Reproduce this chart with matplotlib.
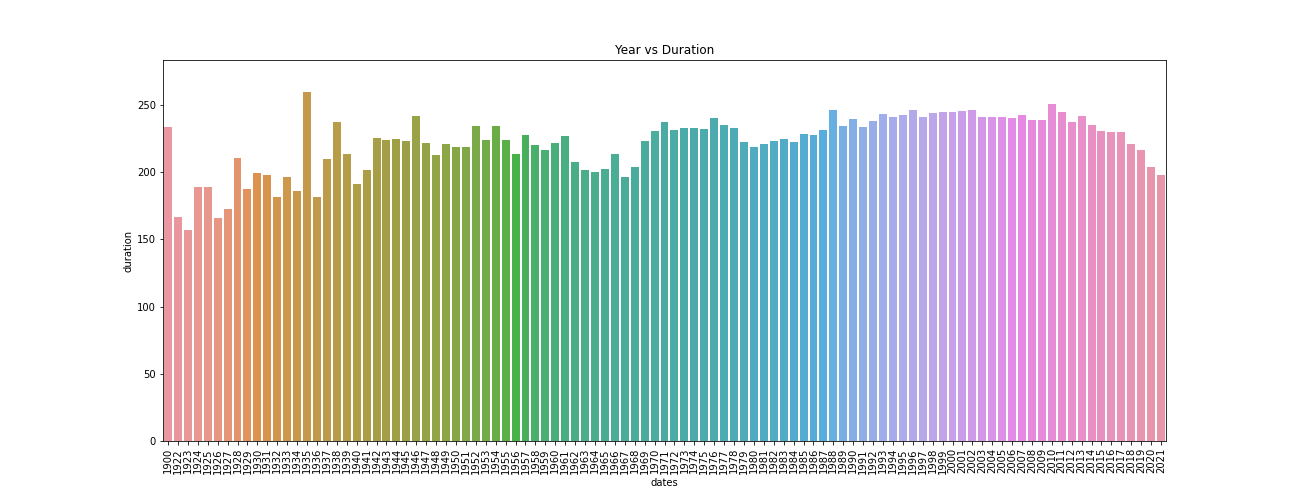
import matplotlib
matplotlib.use("Agg")
import matplotlib.pyplot as plt
import seaborn as sns

years = ["1900"] + [str(y) for y in range(1922, 2022)]

duration = [
    233.6,  # 1900
    166.7, 157.0, 189.0, 189.0, 165.9, 172.6, 210.6, 187.5,  # 1922-1929
    199.4, 197.9, 181.5, 196.4, 186.0, 259.7, 181.5, 209.8, 237.4, 213.5,  # 1930s
    191.2, 201.6, 225.4, 224.0, 224.7, 223.2, 241.8, 221.7, 212.8, 221.0,  # 1940s
    218.8, 218.8, 234.4, 224.0, 234.4, 224.0, 213.5, 227.7, 220.2, 216.5,  # 1950s
    221.7, 226.9, 207.6, 201.6, 200.1, 202.4, 213.5, 196.4, 203.9, 223.2,  # 1960s
    230.7, 237.4, 231.4, 232.9, 232.9, 232.1, 240.3, 235.1, 232.9, 222.5,  # 1970s
    218.8, 221.0, 223.2, 224.7, 222.5, 228.4, 227.7, 231.4, 246.3, 234.4,  # 1980s
    239.6, 233.6, 238.1, 243.3, 241.1, 242.6, 246.3, 241.1, 244.0, 244.8,  # 1990s
    244.8, 245.5, 246.3, 241.1, 241.1, 241.1, 240.3, 242.6, 238.8, 238.8,  # 2000s
    250.7, 244.8, 237.4, 241.8, 235.1, 230.7, 229.9, 229.9, 221.0, 216.5,  # 2010s
    203.9, 197.9,  # 2020-2021
]

# old seaborn barplot default for many categories: husl (l=.7), desaturated to .75
colors = [sns.desaturate(c, 0.75) for c in sns.husl_palette(len(years), l=0.7)]

fig = plt.figure(figsize=(18, 7), dpi=72)
ax = fig.add_axes([0.1258, 0.125, 0.7739, 0.756])

xs = range(len(years))
ax.bar(xs, duration, width=0.8, color=colors)
ax.set_xlim(-0.5, len(years) - 0.5)
ax.set_ylim(0, 283.5)
ax.set_xticks(list(xs))
ax.set_xticklabels(years, rotation=90)

ax.set_xlabel("dates")
ax.set_ylabel("duration")
ax.set_title("Year vs Duration")

fig.savefig("out.png", dpi=72)
